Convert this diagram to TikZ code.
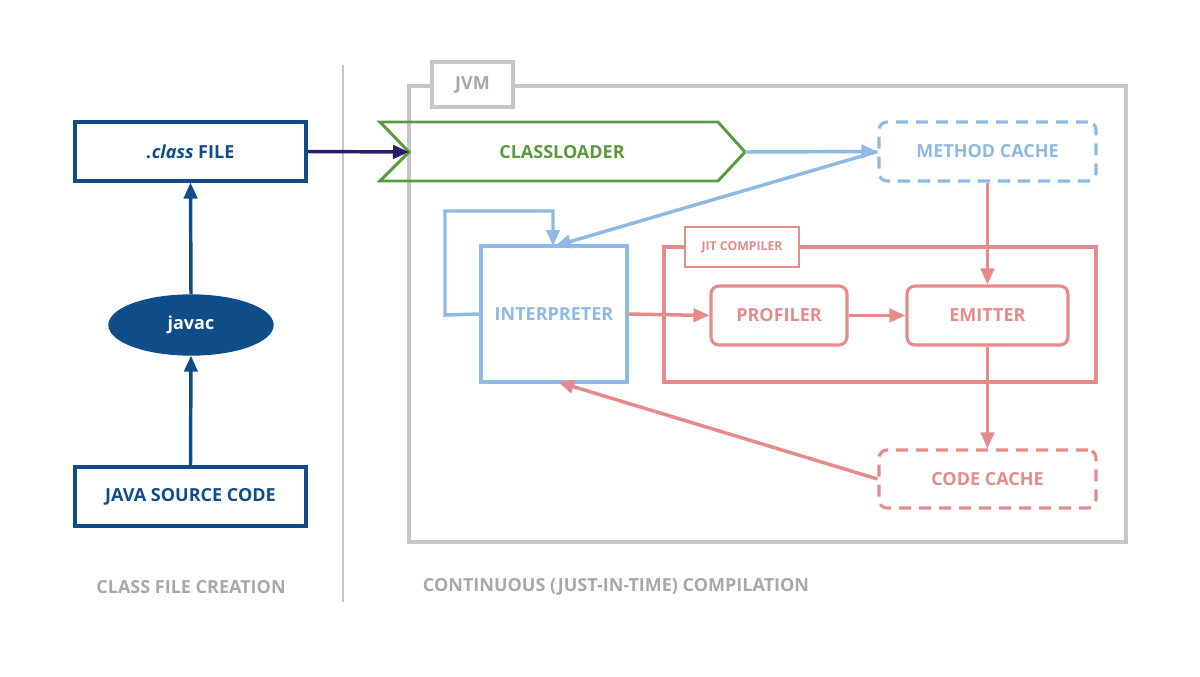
\documentclass[tikz,border=0pt]{standalone}
\usepackage{fontspec}
\setmainfont{Open Sans}[BoldFont={* Bold}, BoldItalicFont={* Bold Italic}]
\usetikzlibrary{arrows.meta,shapes.geometric}
\definecolor{dblue}{HTML}{0F4C8A}
\definecolor{cgreen}{HTML}{5B9A3C}
\definecolor{lblue}{HTML}{8DB9E3}
\definecolor{cred}{HTML}{E68A8A}
\definecolor{lgray}{HTML}{C6C6C6}
\definecolor{tgray}{HTML}{A8A8A8}
\definecolor{cpurple}{HTML}{2B1B6B}
\tikzset{
  base/.style={inner sep=0pt, line width=2.3pt, font=\bfseries\fontsize{13.5}{16}\selectfont},
  dbox/.style={base, draw=dblue, text=dblue, rectangle},
  bbox/.style={base, draw=lblue, text=lblue, rectangle},
  rbox/.style={base, draw=cred, text=cred, rectangle, rounded corners=6pt},
  dashbox/.style={base, rectangle, rounded corners=6pt, dash pattern=on 9pt off 6pt},
  tip/.style={-{Triangle[length=12pt,width=10pt]}},
  conn/.style={line width=2.6pt, tip},
}
\begin{document}
\begin{tikzpicture}[x=0.75pt,y=-0.75pt]
\useasboundingbox (0,0) rectangle (1200,676);
% separator
\draw[lgray, line width=1pt] (343,65) -- (343,602);
% JVM frame
\node[base, draw=lgray, minimum width=537.75pt, minimum height=342pt] (jvm) at (767.5,314) {};
\node[base, draw=lgray, fill=white, text=tgray, minimum width=60.75pt, minimum height=33.75pt] (jvmtab) at (472.5,84.5) {JVM};
% left column
\node[dbox, minimum width=173.25pt, minimum height=44.25pt] (cls) at (190.5,151.5) {\textit{.class} FILE};
\node[base, ellipse, draw=dblue, line width=1pt, fill=dblue, text=white, minimum width=123pt, minimum height=45pt] (javac) at (191,325) {javac};
\node[dbox, minimum width=173.25pt, minimum height=44.25pt] (src) at (190.5,496.5) {JAVA SOURCE CODE};
\draw[conn, dblue] (src.north) -- (javac.south);
\draw[conn, dblue] (javac.north) -- (cls.south);
% classloader
\coordinate (clin) at (409,152);
\coordinate (clout) at (745,152);
\draw[cgreen, line width=2.2pt, line join=miter] (380,122) -- (718,122) -- (clout) -- (718,181) -- (380,181) -- (clin) -- cycle;
\node[base, text=cgreen] (cl) at (562,152) {CLASSLOADER};
\draw[conn, cpurple] (cls.east) -- (clin);
% method cache
\node[dashbox, draw=lblue, text=lblue, minimum width=162.75pt, minimum height=44.25pt] (mc) at (987.5,151.5) {METHOD CACHE};
\draw[conn, lblue] (clout) -- (mc.west);
% interpreter
\node[bbox, minimum width=109.5pt, minimum height=102pt] (interp) at (554,314) {INTERPRETER};
\coordinate (itop) at (555,246);
\draw[conn, lblue] (mc.west) -- (itop);
\coordinate (iloop) at (553,246);
\draw[conn, lblue] (interp.west) -- (445,315) -- (445,211) -- (553,211) -- (iloop);
% JIT compiler
\node[base, draw=cred, minimum width=324pt, minimum height=101.25pt] (jit) at (880,314.5) {};
\node[base, draw=cred, line width=1.4pt, fill=white, text=cred, font=\bfseries\fontsize{9.2}{11}\selectfont, minimum width=85.5pt, minimum height=30pt] (jittab) at (742,247) {JIT COMPILER};
\node[rbox, minimum width=102pt, minimum height=44.25pt] (prof) at (779,315.5) {PROFILER};
\node[rbox, minimum width=120.75pt, minimum height=44.25pt] (emit) at (987.5,315.5) {EMITTER};
\draw[conn, cred] (interp.east) -- (prof.west);
\draw[conn, cred] (prof.east) -- (emit.west);
\draw[conn, cred] (mc.south) -- (emit.north);
% code cache
\node[dashbox, draw=cred, text=cred, minimum width=162.75pt, minimum height=43.5pt] (cc) at (987.5,479) {CODE CACHE};
\draw[conn, cred] (emit.south) -- (cc.north);
\coordinate (ibot) at (558,382);
\draw[conn, cred] (cc.west) -- (ibot);
% captions
\node[base, text=tgray] (cap1) at (191,587) {CLASS FILE CREATION};
\node[base, text=tgray] (cap2) at (616,587) {CONTINUOUS (JUST-IN-TIME) COMPILATION};
\end{tikzpicture}
\end{document}
